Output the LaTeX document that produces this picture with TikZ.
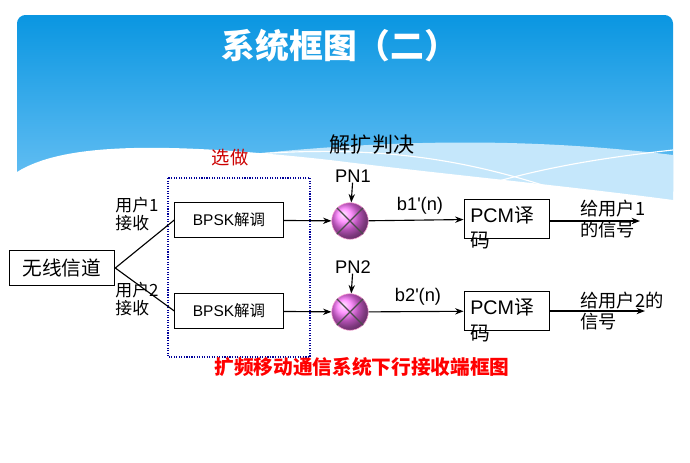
\documentclass[tikz,border=0pt]{standalone}
\usepackage{fontspec}
\setmainfont{Noto Sans CJK SC}
\newfontfamily\latin{Liberation Sans}
\usetikzlibrary{arrows.meta}
\definecolor{skyblue}{RGB}{10,150,225}
\definecolor{lightsky}{RGB}{110,195,245}
\tikzset{
  blk/.style={draw,thick,inner sep=0pt},
  lbl/.style={font=\fontsize{12}{13}\selectfont,align=left,inner sep=0pt},
  arr/.style={thick,-{Stealth[length=6pt]}},
  mix/.style={circle,minimum size=26pt,ball color=magenta!55!white,draw=magenta!40,inner sep=0pt},
}
\begin{document}
\begin{tikzpicture}[x=0.025cm,y=-0.025cm]
  \useasboundingbox (0,0) rectangle (690,462);
  % banner
  \shade[top color=skyblue,bottom color=lightsky,rounded corners=6pt]
    (17,15) rectangle (673,200);
  \fill[white!60!lightsky] (200,160) .. controls (400,135) and (550,140) .. (673,155) -- (673,200) -- (200,200) -- cycle;
  \fill[white] (17,172) .. controls (60,145) and (150,140) .. (330,160)
    .. controls (450,175) and (560,185) .. (673,200) -- (673,205) -- (17,205) -- cycle;
  \draw[white,thick] (210,158) .. controls (380,140) and (480,160) .. (600,205);
  \draw[white,thick] (440,200) .. controls (520,170) and (600,158) .. (673,150);
  \node[white,font=\bfseries\fontsize{24}{26}\selectfont] (title) at (340,46) {系统框图（二）};

  % blocks
  \node[blk,minimum width=75pt,minimum height=25pt,
        font=\fontsize{14}{15}\selectfont] (chan) at (62,268) {无线信道};
  \draw[blue!60!black,densely dotted,thick] (168,178) rectangle (310,357);
  \node[red!80!black,lbl,font=\fontsize{13}{14}\selectfont] (opt) at (230,158) {选做};
  \node[lbl,font=\fontsize{15}{16}\selectfont] (desp) at (372,145) {解扩判决};
  \node[blk,minimum width=77pt,minimum height=25pt,font=\fontsize{11}{12}\selectfont] (bpsk1) at (229,220) {{\latin BPSK}解调};
  \node[blk,minimum width=77pt,minimum height=25pt,font=\fontsize{11}{12}\selectfont] (bpsk2) at (229,311) {{\latin BPSK}解调};
  \node[lbl] (u1) at (137,214) {用户1\\接收};
  \node[lbl] (u2) at (137,299) {用户2\\接收};

  \node[mix] (m1) at (350,221) {};
  \node[mix] (m2) at (350,312) {};
  \foreach \m in {m1,m2}{
    \draw[thick,black!70] (\m.45) -- (\m.225) (\m.135) -- (\m.315);
  }
  \node[lbl,font=\latin\fontsize{13}{14}\selectfont] (pn1) at (353,176) {PN1};
  \node[lbl,font=\latin\fontsize{13}{14}\selectfont] (pn2) at (353,267) {PN2};

  \node[blk,minimum width=61pt,minimum height=28pt] (pcm1) at (507,219) {};
  \node[blk,minimum width=61pt,minimum height=28pt] (pcm2) at (507,311) {};
  \node[lbl,font=\fontsize{14}{15}\selectfont,anchor=west] (t1) at (470,215) {{\latin PCM}译};
  \node[lbl,font=\fontsize{14}{15}\selectfont,anchor=west] (t1b) at (470,240) {码};
  \node[lbl,font=\fontsize{14}{15}\selectfont,anchor=west] (t2) at (470,307) {{\latin PCM}译};
  \node[lbl,font=\fontsize{14}{15}\selectfont,anchor=west] (t2b) at (470,333) {码};

  \node[lbl,font=\latin\fontsize{13}{14}\selectfont] (b1) at (420,206) {b1'(n)};
  \node[lbl,font=\latin\fontsize{13}{14}\selectfont] (b2) at (418,297) {b2'(n)};
  \node[lbl,anchor=west,font=\fontsize{13}{15}\selectfont] (o1) at (580,219) {给用户1\\的信号};
  \node[lbl,anchor=west,font=\fontsize{13}{15}\selectfont] (o2) at (580,311) {给用户2的\\信号};
  \coordinate (e1) at (640,221);
  \coordinate (e2) at (645,311);

  % connectors
  \draw[thick] (chan.east) -- (bpsk1.west);
  \draw[thick] (chan.east) -- (bpsk2.west);
  \draw[arr] (bpsk1) -- (m1);
  \draw[arr] (bpsk2) -- (m2);
  \draw[arr] (pn1) -- (m1);
  \draw[arr] (pn2) -- (m2);
  \draw[arr] (m1) -- (pcm1);
  \draw[arr] (m2) -- (pcm2);
  \draw[arr] (pcm1.east |- e1) -- (e1);
  \draw[arr] (pcm2.east |- e2) -- (e2);

  \node[red,font=\bfseries\fontsize{14}{15}\selectfont] (cap) at (362,367) {扩频移动通信系统下行接收端框图};
\end{tikzpicture}
\end{document}
